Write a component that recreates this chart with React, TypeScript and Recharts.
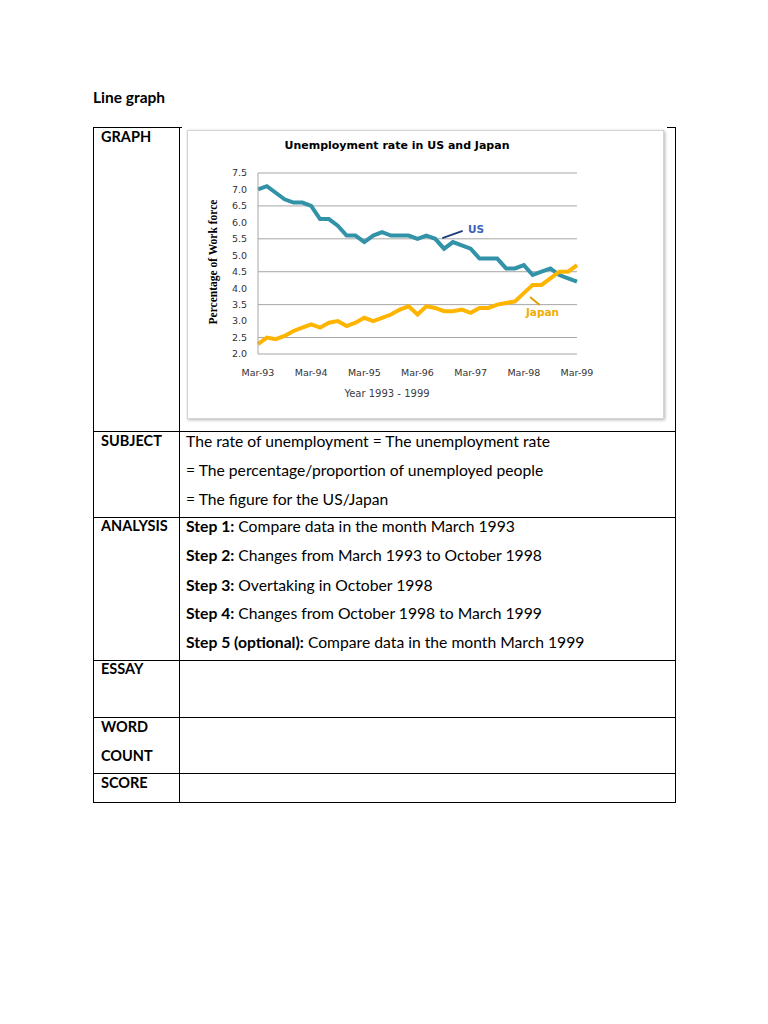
import React from 'react';
import { LineChart, Line, XAxis, YAxis, CartesianGrid, ReferenceLine, ReferenceDot } from 'recharts';

const periods = [
  'Mar-93','May-93','Jul-93','Sep-93','Nov-93','Jan-94',
  'Mar-94','May-94','Jul-94','Sep-94','Nov-94','Jan-95',
  'Mar-95','May-95','Jul-95','Sep-95','Nov-95','Jan-96',
  'Mar-96','May-96','Jul-96','Sep-96','Nov-96','Jan-97',
  'Mar-97','May-97','Jul-97','Sep-97','Nov-97','Jan-98',
  'Mar-98','May-98','Jul-98','Sep-98','Nov-98','Jan-99',
  'Mar-99',
];

const usRate = [
  7.0, 7.1, 6.9, 6.7, 6.6, 6.6,
  6.5, 6.1, 6.1, 5.9, 5.6, 5.6,
  5.4, 5.6, 5.7, 5.6, 5.6, 5.6,
  5.5, 5.6, 5.5, 5.2, 5.4, 5.3,
  5.2, 4.9, 4.9, 4.9, 4.6, 4.6,
  4.7, 4.4, 4.5, 4.6, 4.4, 4.3,
  4.2,
];

const japanRate = [
  2.3, 2.5, 2.45, 2.55, 2.7, 2.8,
  2.9, 2.8, 2.95, 3.0, 2.85, 2.95,
  3.1, 3.0, 3.1, 3.2, 3.35, 3.45,
  3.2, 3.45, 3.4, 3.3, 3.3, 3.35,
  3.25, 3.4, 3.4, 3.5, 3.55, 3.6,
  3.85, 4.1, 4.1, 4.3, 4.5, 4.5,
  4.7,
];

const xTicks = ['Mar-93', 'Mar-94', 'Mar-95', 'Mar-96', 'Mar-97', 'Mar-98', 'Mar-99'];
const yTicks = [2.0, 2.5, 3.0, 3.5, 4.0, 4.5, 5.0, 5.5, 6.0, 6.5, 7.0, 7.5];

const data = periods.map((p, i) => ({ idx: i, label: p, us: usRate[i], japan: japanRate[i] }));
const xTickIdx = xTicks.map((t) => periods.indexOf(t));

const LATO = 'Lato, "Liberation Sans", sans-serif';
const DEJAVU = '"DejaVu Sans", Verdana, sans-serif';

const hLines = [127, 431, 517, 660, 717, 773, 802];
const vLines = [93, 179, 675];

const T = ({ x, y, children, bold = false, size = 15.7 }: any) => (
  <div
    style={{
      position: 'absolute',
      left: x,
      top: y - 10,
      height: 20,
      lineHeight: '20px',
      fontFamily: LATO,
      fontSize: size,
      fontWeight: bold ? 700 : 400,
      color: '#000',
      whiteSpace: 'nowrap',
    }}
  >
    {children}
  </div>
);

export default function App() {
  return (
    <div style={{ position: 'absolute', left: 0, top: 0, width: 768, height: 1024, background: '#fff', overflow: 'hidden' }}>
      <T x={93} y={97} bold size={15.5}>Line graph</T>

      {hLines.map((y) => (
        <div key={'h' + y} style={{ position: 'absolute', left: 93, top: y, width: 583, height: 1, background: '#000' }} />
      ))}
      {vLines.map((x) => (
        <div key={'v' + x} style={{ position: 'absolute', left: x, top: 127, width: 1, height: 676, background: '#000' }} />
      ))}

      {/* chart image box */}
      <div
        style={{
          position: 'absolute',
          left: 182,
          top: 126,
          width: 485,
          height: 296,
          background: '#fff',
        }}
      />
      <div
        style={{
          position: 'absolute',
          left: 187,
          top: 130,
          width: 475,
          height: 287,
          background: '#fff',
          border: '1px solid #d4d4d4',
          boxShadow: '1px 1px 3px rgba(0,0,0,0.3)',
        }}
      />

      <div style={{ position: 'absolute', left: 186, top: 128 }}>
        <LineChart width={478} height={290} data={data} margin={{ top: 45, right: 87, bottom: 34, left: 0 }}>
          <CartesianGrid vertical={false} stroke="#a6a6a6" strokeWidth={1} />
          <XAxis
            dataKey="idx"
            type="number"
            domain={[0, periods.length - 1]}
            ticks={xTickIdx}
            tickFormatter={(v: number) => periods[v]}
            interval={0}
            axisLine={false}
            tickLine={false}
            tickMargin={9}
            height={30}
            tick={{ fontFamily: DEJAVU, fontSize: 9.5, fill: '#333' }}
          />
          <YAxis
            domain={[2, 7.5]}
            ticks={yTicks}
            tickFormatter={(v: number) => v.toFixed(1)}
            width={72}
            axisLine={{ stroke: '#a6a6a6' }}
            tickLine={false}
            tickMargin={5}
            tick={{ fontFamily: DEJAVU, fontSize: 9.5, fill: '#333' }}
          />
          <Line
            type="linear"
            dataKey="us"
            stroke="#3192a8"
            strokeWidth={4}
            dot={false}
            isAnimationActive={false}
          />
          <Line
            type="linear"
            dataKey="japan"
            stroke="#ffb400"
            strokeWidth={4}
            dot={false}
            isAnimationActive={false}
          />
          <ReferenceLine
            segment={[{ x: 20.8, y: 5.52 }, { x: 23.1, y: 5.74 }]}
            stroke="#1f3d7a"
            strokeWidth={2}
            ifOverflow="visible"
          />
          <ReferenceDot
            x={24.6}
            y={5.8}
            r={0}
            fill="none"
            stroke="none"
            ifOverflow="visible"
            label={{ value: 'US', position: 'center', fill: '#3b62b8', fontSize: 10.5, fontWeight: 700, fontFamily: DEJAVU }}
          />
          <ReferenceLine
            segment={[{ x: 30.7, y: 3.73 }, { x: 31.8, y: 3.49 }]}
            stroke="#d9a300"
            strokeWidth={2}
            ifOverflow="visible"
          />
          <ReferenceDot
            x={32.1}
            y={3.27}
            r={0}
            fill="none"
            stroke="none"
            ifOverflow="visible"
            label={{ value: 'Japan', position: 'center', fill: '#f0ad00', fontSize: 10.5, fontWeight: 700, fontFamily: DEJAVU }}
          />
        </LineChart>
      </div>

      {/* chart texts */}
      <div style={{ position: 'absolute', left: 186, top: 138, width: 422, textAlign: 'center', fontFamily: DEJAVU, fontWeight: 700, fontSize: 11, lineHeight: '16px', color: '#000', whiteSpace: 'nowrap' }}>
        Unemployment rate in US and Japan
      </div>
      <div style={{ position: 'absolute', left: 287, top: 387, width: 200, textAlign: 'center', fontFamily: DEJAVU, fontSize: 10, lineHeight: '14px', color: '#404040', whiteSpace: 'nowrap' }}>
        Year 1993 - 1999
      </div>
      <div
        style={{
          position: 'absolute',
          left: 213 - 80,
          top: 262 - 8,
          width: 160,
          height: 16,
          lineHeight: '16px',
          textAlign: 'center',
          transform: 'rotate(-90deg)',
          fontFamily: '"Liberation Serif", "Times New Roman", serif',
          fontWeight: 700,
          fontSize: 11.5,
          color: '#000',
          whiteSpace: 'nowrap',
        }}
      >
        Percentage of Work force
      </div>

      {/* table texts */}
      <T x={101} y={137} bold size={14.5}>GRAPH</T>
      <T x={101} y={441} bold size={14.5}>SUBJECT</T>
      <T x={101} y={526} bold size={14.5}>ANALYSIS</T>
      <T x={101} y={669} bold size={14.5}>ESSAY</T>
      <T x={101} y={727} bold size={14.5}>WORD</T>
      <T x={101} y={756} bold size={14.5}>COUNT</T>
      <T x={101} y={783} bold size={14.5}>SCORE</T>

      <T x={186} y={441}>The rate of unemployment = The unemployment rate</T>
      <T x={186} y={470}>= The percentage/proportion of unemployed people</T>
      <T x={186} y={499}>= The figure for the US/Japan</T>

      <T x={186} y={526}><b>Step 1:</b> Compare data in the month March 1993</T>
      <T x={186} y={555}><b>Step 2:</b> Changes from March 1993 to October 1998</T>
      <T x={186} y={585}><b>Step 3:</b> Overtaking in October 1998</T>
      <T x={186} y={613}><b>Step 4:</b> Changes from October 1998 to March 1999</T>
      <T x={186} y={642}><b>Step 5 (optional):</b> Compare data in the month March 1999</T>
    </div>
  );
}
